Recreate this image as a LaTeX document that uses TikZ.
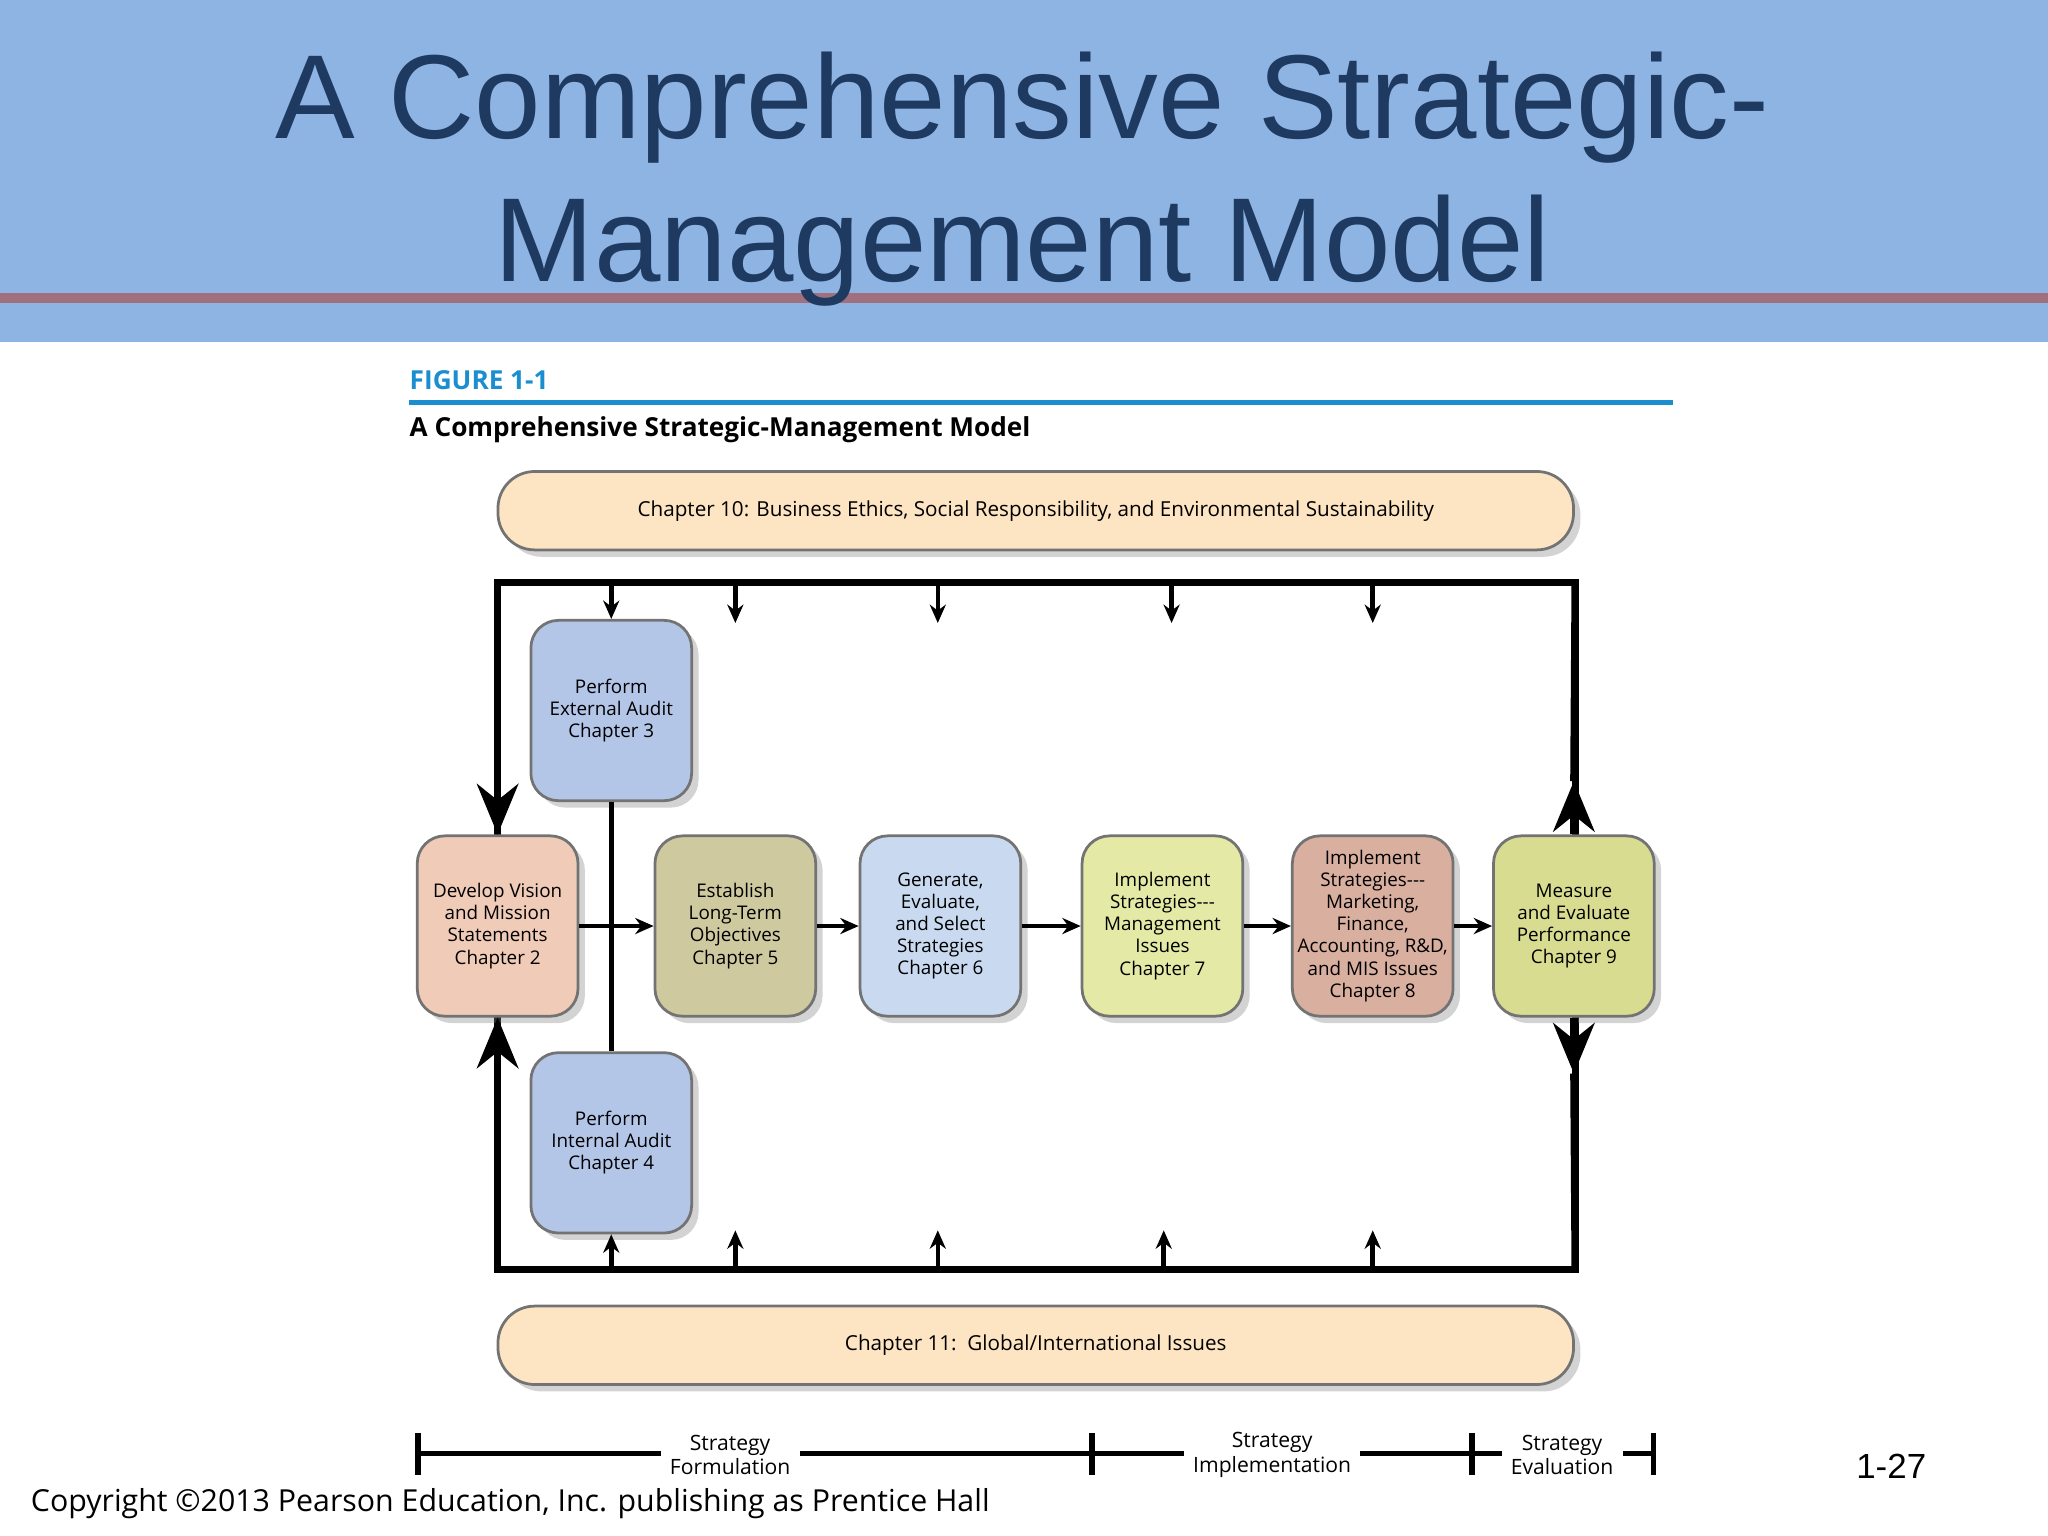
\documentclass[tikz,border=0pt]{standalone}
\usepackage{fontspec}
\setmainfont{Liberation Sans}
\newfontfamily\openf{Open Sans}
\usetikzlibrary{arrows.meta,shadows}
\definecolor{hdr}{HTML}{8EB4E3}
\definecolor{ttl}{HTML}{1F3A60}
\definecolor{fig}{HTML}{1B8ED0}
\definecolor{peach}{HTML}{FDE5C3}
\definecolor{cA}{HTML}{B4C6E7}
\definecolor{cD}{HTML}{EFCBB8}
\definecolor{cE}{HTML}{CFC9A0}
\definecolor{cG}{HTML}{C9DAF0}
\definecolor{cI}{HTML}{E4EAA5}
\definecolor{cJ}{HTML}{D9AFA0}
\definecolor{cM}{HTML}{D8DC90}
\definecolor{strp}{HTML}{A0707E}
\tikzset{
 bx/.style={draw=black!55,rounded corners=6pt,line width=0.6pt,minimum width=1.23cm,minimum height=1.38cm,inner sep=1pt,align=center,font=\openf\fontsize{4.1}{4.8}\selectfont,drop shadow={shadow xshift=1.5pt,shadow yshift=-1.5pt,opacity=0.35}},
 wide/.style={draw=black!55,fill=peach,rounded corners=8pt,line width=0.6pt,minimum width=8.23cm,minimum height=0.6cm,font=\openf\fontsize{4.5}{5.4}\selectfont,drop shadow={shadow xshift=1.5pt,shadow yshift=-1.5pt,opacity=0.35}},
 ar/.style={line width=1pt,-{Stealth[length=4pt,width=3.5pt]}},
 fr/.style={line width=1.6pt},
 tl/.style={fill=white,inner sep=2pt,align=center,font=\openf\fontsize{4.6}{5.3}\selectfont}
}
\begin{document}
\begin{tikzpicture}[x=0.01cm,y=-0.01cm]
\useasboundingbox (0,0) rectangle (1568,1176);
\fill[hdr] (0,0) rectangle (1568,262);
\fill[strp] (0,224) rectangle (1568,232);
\node[text=ttl,font=\fontsize{26}{31}\selectfont,align=center] (title) at (783,137) {A Comprehensive Strategic-\\Management Model};
\node[anchor=west,text=fig,font=\openf\bfseries\fontsize{5.7}{6}\selectfont,inner sep=0] (figl) at (313,291) {FIGURE 1-1};
\draw[fig,line width=1.2pt] (313,308) -- (1281,308);
\node[anchor=west,font=\openf\bfseries\fontsize{5.7}{6}\selectfont,inner sep=0] (sub) at (313,329) {A Comprehensive Strategic-Management Model};
\node[wide] (c10) at (793,391) {Chapter 10: Business Ethics, Social Responsibility, and Environmental Sustainability};
\node[wide] (c11) at (793,1030) {Chapter 11:\ \ Global/International Issues};
\draw[fr] (381,446) rectangle (1206,972);
\coordinate (tl) at (381,446); \coordinate (tr) at (1206,446);
\coordinate (bl) at (381,972); \coordinate (br) at (1206,972);
\node[bx,fill=cA] (ext) at (468,544) {Perform\\External Audit\\Chapter 3};
\node[bx,fill=cA] (int) at (468,875) {Perform\\Internal Audit\\Chapter 4};
\node[bx,fill=cD] (dev) at (381,709) {Develop Vision\\and Mission\\Statements\\Chapter 2};
\node[bx,fill=cE] (est) at (563,709) {Establish\\Long-Term\\Objectives\\Chapter 5};
\node[bx,fill=cG] (gen) at (720,709) {Generate,\\Evaluate,\\and Select\\Strategies\\Chapter 6};
\node[bx,fill=cI] (im7) at (890,709) {Implement\\Strategies---\\Management\\Issues\\Chapter 7};
\node[bx,fill=cJ] (im8) at (1051,709) {Implement\\Strategies---\\Marketing,\\Finance,\\Accounting, R\&D,\\and MIS Issues\\Chapter 8};
\node[bx,fill=cM] (mea) at (1205,709) {Measure\\and Evaluate\\Performance\\Chapter 9};
\draw[line width=1pt] (ext.south) -- (int.north);
\draw[ar] (dev.east) -- (est.west);
\draw[ar] (est.east) -- (gen.west);
\draw[ar] (gen.east) -- (im7.west);
\draw[ar] (im7.east) -- (im8.west);
\draw[ar] (im8.east) -- (mea.west);
\foreach \x/\n in {563/a,718/b,897/c,1051/d}{
 \coordinate (t\n) at (\x,446); \draw[ar] (t\n) -- ++(0,31);}
\foreach \x/\n in {563/a,718/b,891/c,1051/d}{
 \coordinate (b\n) at (\x,972); \draw[ar] (b\n) -- ++(0,-30);}
\draw[ar] (ext.north |- tl) -- (ext.north);
\draw[ar] (int.south |- bl) -- (int.south);
\draw[fr,-{Stealth[length=11pt,width=9pt]}] (tl) -- (dev.north);
\draw[fr,-{Stealth[length=11pt,width=9pt]}] (bl) -- (dev.south);
\draw[fr,-{Stealth[length=11pt,width=9pt]}] (mea.north) -- (1205,598);
\draw[fr] (1205,598) -- (tr);
\draw[fr,-{Stealth[length=11pt,width=9pt]}] (mea.south) -- (1205,822);
\draw[fr] (1205,822) -- (br);
\coordinate (l0) at (320,1113); \coordinate (l1) at (836,1113);
\coordinate (l2) at (1127,1113); \coordinate (l3) at (1266,1113);
\draw[line width=1.2pt] (l0) -- (l3);
\foreach \p in {l0,l1,l2,l3} \draw[line width=1.2pt] (\p) ++(0,-16) -- ++(0,32);
\node[tl] (sf) at (559,1114) {Strategy\\Formulation};
\node[tl] (si) at (974,1114) {Strategy\\Implementation};
\node[tl] (se) at (1196,1114) {Strategy\\Evaluation};
\node[font=\fontsize{7.6}{8}\selectfont] (pg) at (1448,1123) {1-27};
\node[anchor=west,inner sep=0,font=\openf\fontsize{6.6}{8}\selectfont] (cp) at (23,1151) {Copyright ©2013 Pearson Education, Inc. publishing as Prentice Hall};
\end{tikzpicture}
\end{document}
